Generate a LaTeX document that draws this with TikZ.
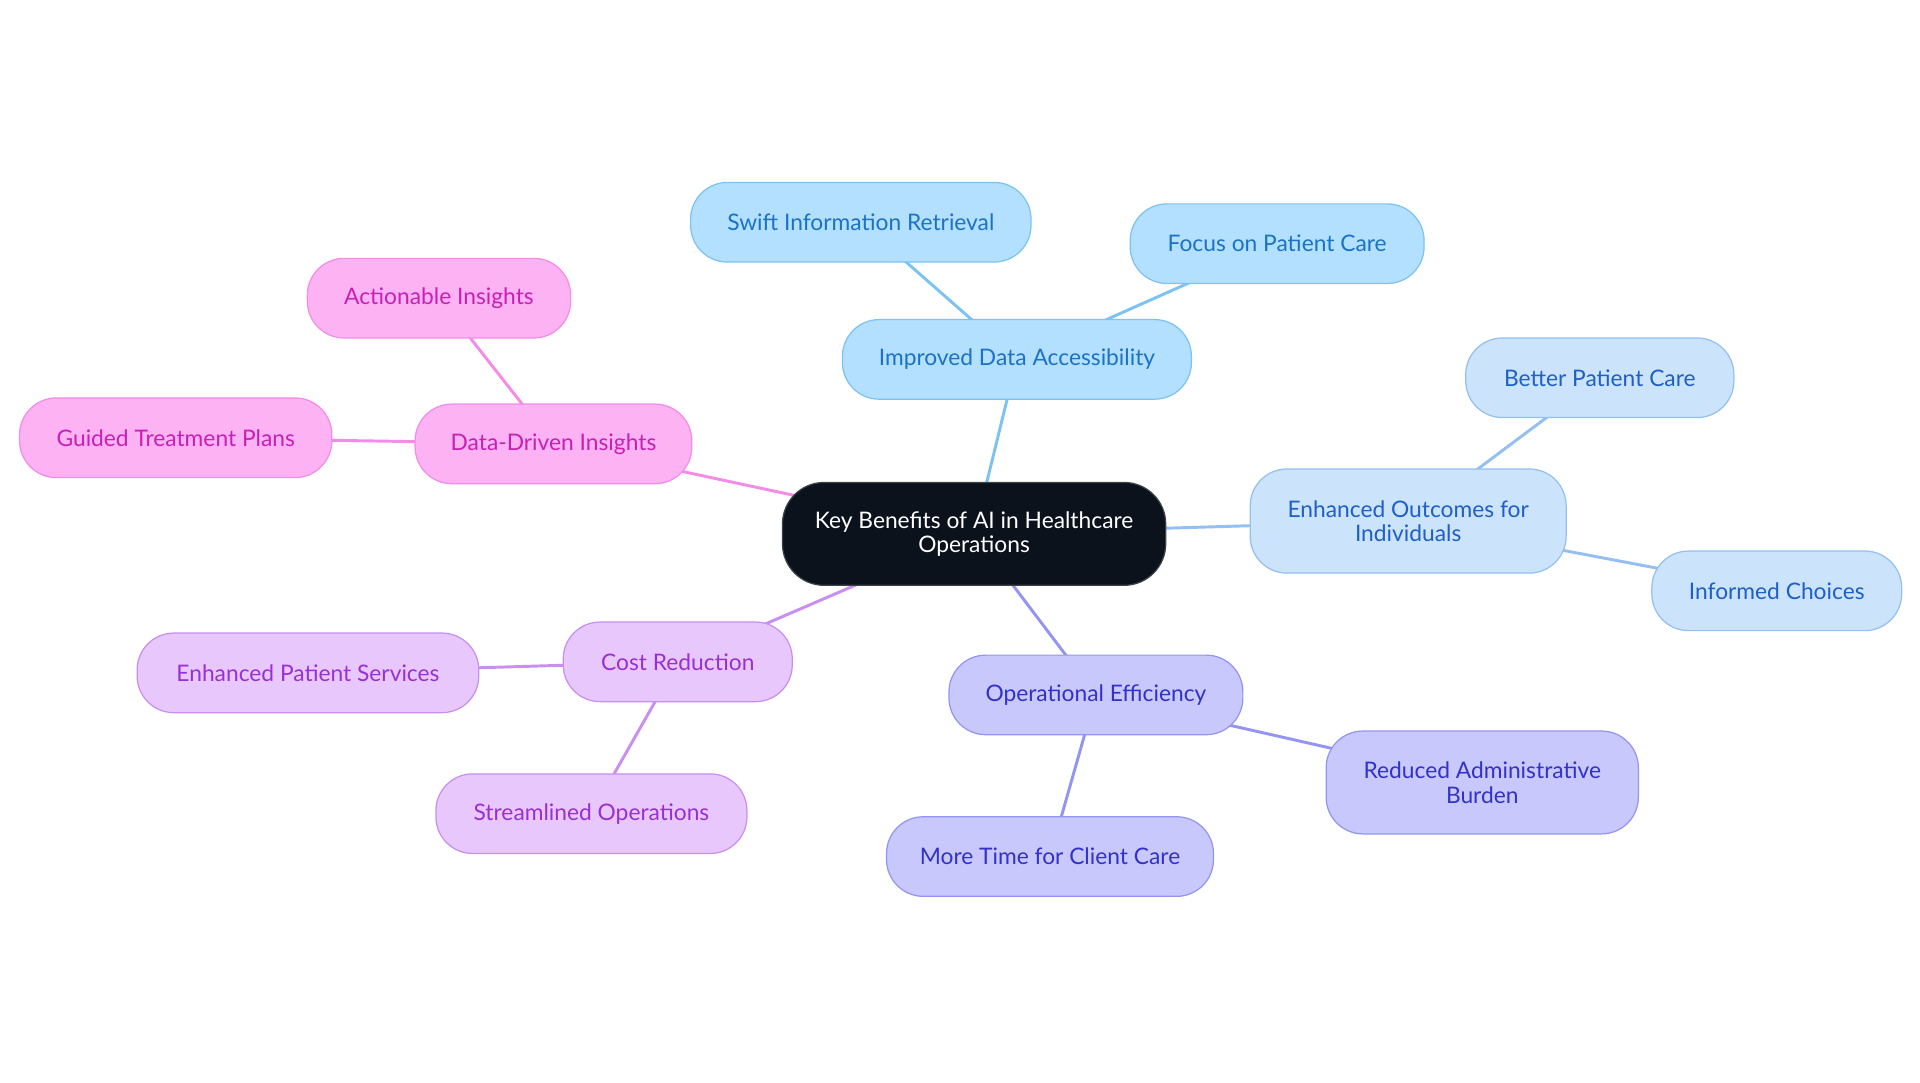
\documentclass[tikz,border=0pt]{standalone}
\usepackage{fontspec}
\setmainfont{Lato}
\usepackage{tikz}
\usetikzlibrary{positioning}
\usetikzlibrary{backgrounds}
\definecolor{hubfill}{HTML}{0C121C}
\definecolor{hubline}{HTML}{3C424A}
\definecolor{accfill}{HTML}{B3E0FE}
\definecolor{accline}{HTML}{7CC2F2}
\definecolor{acctext}{HTML}{1A73C8}
\definecolor{outfill}{HTML}{CCE3FC}
\definecolor{outline}{HTML}{94BFF2}
\definecolor{outtext}{HTML}{1F5FC8}
\definecolor{effill}{HTML}{C8C8FC}
\definecolor{efline}{HTML}{9494F2}
\definecolor{eftext}{HTML}{3232C8}
\definecolor{costfill}{HTML}{E8C8FC}
\definecolor{costline}{HTML}{C98EF2}
\definecolor{costtext}{HTML}{9A2FD6}
\definecolor{insfill}{HTML}{FDB3F3}
\definecolor{insline}{HTML}{F28CE6}
\definecolor{instext}{HTML}{C81FB4}
\tikzset{
    mmnode/.style={rectangle, rounded corners=15pt, minimum height=32.5pt,
        inner sep=2pt, align=center, line width=0.5pt,
        font=\fontsize{9.3}{10}\selectfont},
    hubnode/.style={mmnode, fill=hubfill, draw=hubline, text=white,
        rounded corners=17pt, minimum height=42pt},
    accnode/.style={mmnode, fill=accfill, draw=accline, text=acctext},
    outnode/.style={mmnode, fill=outfill, draw=outline, text=outtext},
    efnode/.style={mmnode, fill=effill, draw=efline, text=eftext},
    costnode/.style={mmnode, fill=costfill, draw=costline, text=costtext},
    insnode/.style={mmnode, fill=insfill, draw=insline, text=instext},
    accedge/.style={draw=accline, line width=1.2pt},
    outedge/.style={draw=outline, line width=1.2pt},
    efedge/.style={draw=efline, line width=1.2pt},
    costedge/.style={draw=costline, line width=1.2pt},
    insedge/.style={draw=insline, line width=1.2pt},
}
\begin{document}
\begin{tikzpicture}[x=0.5pt, y=-0.5pt]
	\useasboundingbox (0,0) rectangle (1568,884.4);
%
	\node[hubnode, minimum width=156.5pt] (hub) at (795.5,436) {Key Benefits of AI in Healthcare\\Operations};
%
	\node[accnode, minimum width=142.5pt] (access) at (830.5,293.5) {Improved Data Accessibility};
	\node[accnode, minimum width=139pt] (swift) at (703,181.5) {Swift Information Retrieval};
	\node[accnode, minimum width=120pt] (focus) at (1043,199) {Focus on Patient Care};
%
	\node[outnode, minimum width=129pt, minimum height=42.5pt] (outcomes) at (1150,425.5) {Enhanced Outcomes for\\Individuals};
	\node[outnode, minimum width=109.5pt] (better) at (1306.5,308.5) {Better Patient Care};
	\node[outnode, minimum width=102pt] (informed) at (1451,482.5) {Informed Choices};
%
	\node[efnode, minimum width=120pt] (effic) at (895,567.5) {Operational Efficiency};
	\node[efnode, minimum width=127.5pt, minimum height=42pt] (burden) at (1210.5,639) {Reduced Administrative\\Burden};
	\node[efnode, minimum width=133.5pt] (time) at (857.5,699.5) {More Time for Client Care};
%
	\node[costnode, minimum width=93.5pt] (cost) at (553.5,540.5) {Cost Reduction};
	\node[costnode, minimum width=139.5pt] (services) at (251.5,549.5) {Enhanced Patient Services};
	\node[costnode, minimum width=127pt] (stream) at (483,664.5) {Streamlined Operations};
%
	\node[insnode, minimum width=113pt] (insights) at (452,362.5) {Data-Driven Insights};
	\node[insnode, minimum width=107.5pt] (action) at (358.5,243.5) {Actionable Insights};
	\node[insnode, minimum width=127.5pt] (guided) at (143.5,357.5) {Guided Treatment Plans};
%
	\begin{scope}[on background layer]
	\draw[accedge] (hub.center) -- (access.center);
	\draw[accedge] (access.center) -- (swift.center);
	\draw[accedge] (access.center) -- (focus.center);
	\draw[outedge] (hub.center) -- (outcomes.center);
	\draw[outedge] (outcomes.center) -- (better.center);
	\draw[outedge] (outcomes.center) -- (informed.center);
	\draw[efedge] (hub.center) -- (effic.center);
	\draw[efedge] (effic.center) -- (burden.center);
	\draw[efedge] (effic.center) -- (time.center);
	\draw[costedge] (hub.center) -- (cost.center);
	\draw[costedge] (cost.center) -- (services.center);
	\draw[costedge] (cost.center) -- (stream.center);
	\draw[insedge] (hub.center) -- (insights.center);
	\draw[insedge] (insights.center) -- (action.center);
	\draw[insedge] (insights.center) -- (guided.center);
	\end{scope}
\end{tikzpicture}
\end{document}
